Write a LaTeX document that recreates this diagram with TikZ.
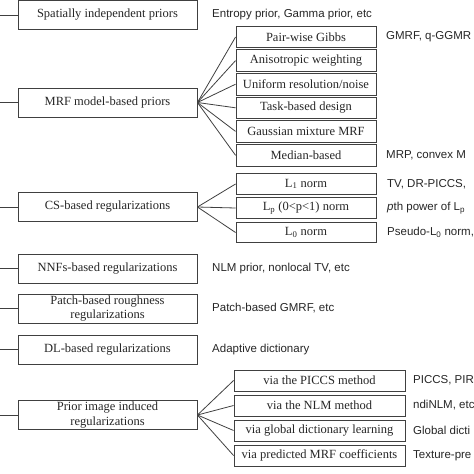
\documentclass[tikz,border=0pt]{standalone}
\usepackage{fontspec}
\setmainfont{Liberation Serif}
\newfontfamily\lblfont{Liberation Sans}
\begin{document}
\begin{tikzpicture}[x=1pt,y=-1pt,
  box/.style={draw=black!75,line width=0.9pt,inner sep=0pt,align=center,
    font=\fontsize{12.5}{14.5}\selectfont,text=black!85},
  bigbox/.style={box,minimum width=179pt,minimum height=29pt},
  subbox/.style={box,minimum height=21.5pt},
  lbl/.style={anchor=west,inner sep=0pt,font=\lblfont\fontsize{11.5}{13}\selectfont,text=black!85},
  conn/.style={draw=black!75,line width=0.8pt}]
\useasboundingbox (0,0) rectangle (474,474);
\clip (0,0) rectangle (474,474);
% left boxes
\node[bigbox] (sp) at (107.5,15) {Spatially independent priors};
\node[bigbox] (mrf) at (107.5,102.5) {MRF model-based priors};
\node[bigbox] (cs) at (107.5,207) {CS-based regularizations};
\node[bigbox] (nnf) at (107.5,268.5) {NNFs-based regularizations};
\node[bigbox] (pb) at (107.5,308.5) {Patch-based roughness\\regularizations};
\node[bigbox] (dl) at (107.5,349.5) {DL-based regularizations};
\node[bigbox] (pii) at (107.5,415) {Prior image induced\\regularizations};
% stubs
\foreach \n in {sp,mrf,cs,nnf,pb,dl,pii}{
  \coordinate (s\n) at (0,0 |- \n.west);
  \draw[conn] (s\n) -- (\n.west);
}
% MRF sub boxes
\node[subbox,minimum width=140pt] (m1) at (306,37) {Pair-wise Gibbs};
\node[subbox,minimum width=140pt] (m2) at (306,60.6) {Anisotropic weighting};
\node[subbox,minimum width=140pt] (m3) at (306,84.2) {Uniform resolution/noise};
\node[subbox,minimum width=140pt] (m4) at (306,107.8) {Task-based design};
\node[subbox,minimum width=140pt] (m5) at (306,131.4) {Gaussian mixture MRF};
\node[subbox,minimum width=140pt] (m6) at (306,155.3) {Median-based};
\foreach \i in {1,...,6}{\draw[conn] (mrf.east) -- (m\i.west);}
% CS sub boxes
\node[subbox,minimum width=140pt,minimum height=20.5pt] (c1) at (306,184) {L\textsubscript{1} norm};
\node[subbox,minimum width=140pt,minimum height=20.5pt] (c2) at (306,208) {L\textsubscript{p} (0<p<1) norm};
\node[subbox,minimum width=140pt,minimum height=20.5pt] (c3) at (306,232.5) {L\textsubscript{0} norm};
\foreach \i in {1,2,3}{\draw[conn] (cs.east) -- (c\i.west);}
% Prior image sub boxes
\node[subbox,minimum width=171pt,minimum height=21pt] (p1) at (319.5,380.5) {via the PICCS method};
\node[subbox,minimum width=171pt,minimum height=21pt] (p2) at (319.5,405.5) {via the NLM method};
\node[subbox,minimum width=171pt,minimum height=21pt] (p3) at (319.5,430.5) {via global dictionary learning};
\node[subbox,minimum width=171pt,minimum height=21pt] (p4) at (319.5,455.5) {via predicted MRF coefficients};
\foreach \i in {1,...,4}{\draw[conn] (pii.east) -- (p\i.west);}
% labels
\node[lbl] (l1) at (212,15) {Entropy prior, Gamma prior, etc};
\node[lbl] (l2) at (386,37) {GMRF, q-GGMR};
\node[lbl] (l3) at (386,155.3) {MRP, convex M};
\node[lbl] (l4) at (387,184) {TV, DR-PICCS,};
\node[lbl] (l5) at (387,208) {\textit{p}th power of L\textsubscript{p}};
\node[lbl] (l6) at (387,232.5) {Pseudo-L\textsubscript{0} norm,};
\node[lbl] (l7) at (212,268.5) {NLM prior, nonlocal TV, etc};
\node[lbl] (l8) at (212,308.5) {Patch-based GMRF, etc};
\node[lbl] (l9) at (212,349.5) {Adaptive dictionary};
\node[lbl] (l10) at (413,380.5) {PICCS, PIR};
\node[lbl] (l11) at (413,405.5) {ndiNLM, etc};
\node[lbl] (l12) at (413,430.5) {Global dicti};
\node[lbl] (l13) at (413,455.5) {Texture-pre};
\end{tikzpicture}
\end{document}
